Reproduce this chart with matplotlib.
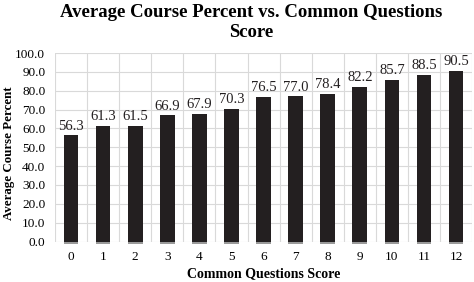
import matplotlib.pyplot as plt
import numpy as np

# data
scores = ['0', '1', '2', '3', '4', '5', '6', '7', '8', '9', '10', '11', '12']
avg_percent = [56.3, 61.3, 61.5, 66.9, 67.9, 70.3, 76.5, 77.0, 78.4, 82.2, 85.7, 88.5, 90.5]
yticks = [0, 10, 20, 30, 40, 50, 60, 70, 80, 90, 100]

serif = 'Liberation Serif'
grid_col = '#d9d9d9'

fig = plt.figure(figsize=(4.74, 2.82), dpi=100)
ax = fig.add_axes([0.116, 0.1436, 0.88, 0.6684])

x = np.arange(len(scores))
bars = ax.bar(x, avg_percent, width=0.46, color='#231f20', zorder=3)
# grey little base under each bar
ax.bar(x, [-1.2] * len(x), width=0.46, color='#9a9a9a', zorder=2, clip_on=False)

for xi, v in zip(x, avg_percent):
    ax.text(xi, v + 1.5, f'{v:.1f}', ha='center', va='bottom',
            fontsize=10.5, family=serif, color='#231f20', zorder=4)

ax.set_xlim(-0.5, len(scores) - 0.5)
ax.set_ylim(0, 100)
ax.set_xticks(x)
ax.set_xticklabels(scores, family=serif, fontsize=9.5)
ax.set_yticks(yticks)
ax.set_yticklabels([f'{t:.1f}' for t in yticks], family=serif, fontsize=9.5)
ax.tick_params(axis='x', length=0, pad=7)
ax.tick_params(axis='y', length=0, pad=7)

# grid: horizontal at each 10, vertical at category boundaries
for t in yticks:
    ax.axhline(t, color=grid_col, lw=0.8, zorder=1)
for b in np.arange(-0.5, len(scores), 1.0):
    ax.axvline(b, color=grid_col, lw=0.8, zorder=1)
for sp in ax.spines.values():
    sp.set_visible(False)

ax.set_xlabel('Common Questions Score', family=serif, fontweight='bold', fontsize=10, labelpad=3)
ax.set_ylabel('Average Course Percent', family=serif, fontweight='bold', fontsize=9.3,
              va='center')
ax.yaxis.set_label_coords(-0.11, 0.47)
fig.suptitle('Average Course Percent vs. Common Questions\nScore', family=serif,
             fontweight='bold', fontsize=13.5, x=0.53, y=0.985, linespacing=1.25)

fig.savefig('out.png', dpi=100)
